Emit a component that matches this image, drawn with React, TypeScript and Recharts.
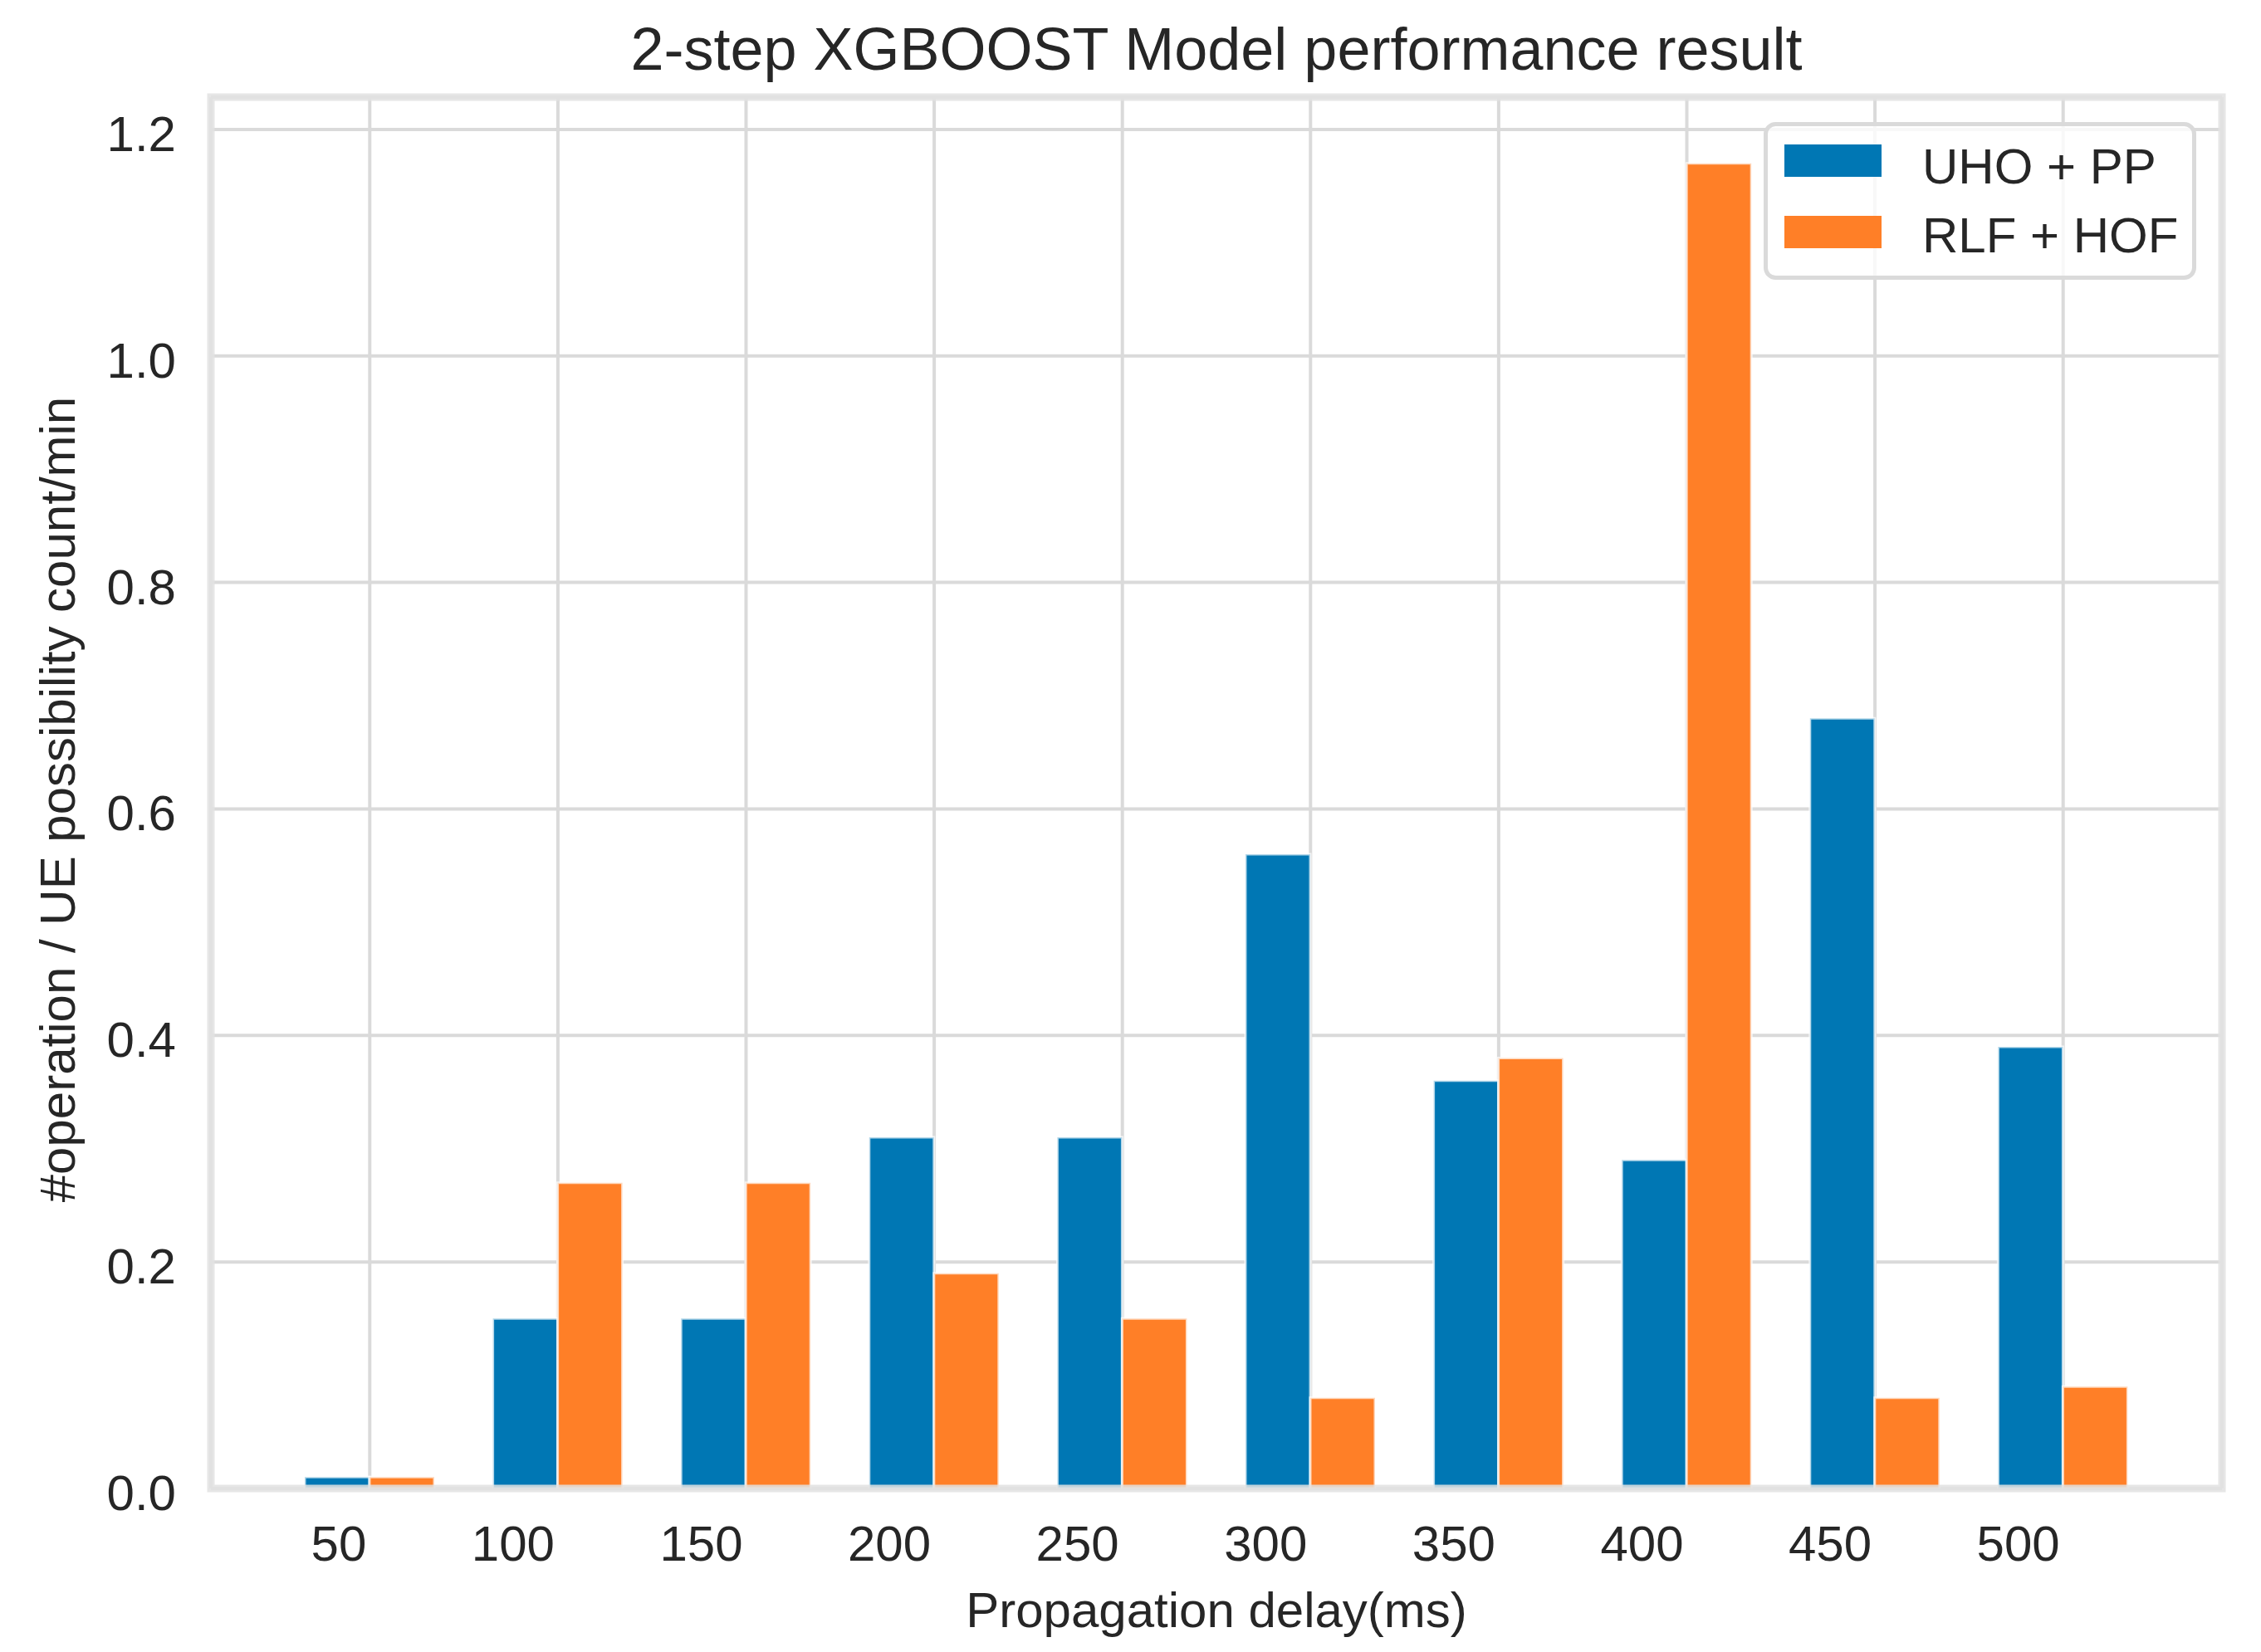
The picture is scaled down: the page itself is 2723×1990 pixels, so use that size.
import React from 'react';
import { BarChart, Bar, XAxis, YAxis, CartesianGrid, Legend } from 'recharts';

const categories = ['50', '100', '150', '200', '250', '300', '350', '400', '450', '500'];
const uhoPP = [0.01, 0.15, 0.15, 0.31, 0.31, 0.56, 0.36, 0.29, 0.68, 0.39];
const rlfHOF = [0.01, 0.27, 0.27, 0.19, 0.15, 0.08, 0.38, 1.17, 0.08, 0.09];
const yTicks = [0, 0.2, 0.4, 0.6, 0.8, 1.0, 1.2];
const seriesNames = ['UHO + PP', 'RLF + HOF'];
const titleText = '2-step XGBOOST Model performance result';
const xLabelText = 'Propagation delay(ms)';
const yLabelText = '#operation / UE possibility count/min';

const data = categories.map((c, i) => ({ delay: c, uho: uhoPP[i], rlf: rlfHOF[i] }));

const W = 2723;
const H = 1990;
const FONT = "'Liberation Sans', Arial, Helvetica, sans-serif";
const TXT = '#262626';
const BLUE = '#0077B4';
const ORANGE = '#FF7F27';

const PLOT_L = 254;
const PLOT_T = 117;
const PLOT_R = 2676;
const PLOT_B = 1793;

const XTick = (props: any) => {
  const { x, y, payload } = props;
  return (
    <text x={x - 4} y={y + 87} textAnchor="end" fontSize={60} fontFamily={FONT} fill={TXT}>
      {payload.value}
    </text>
  );
};

const YTick = (props: any) => {
  const { x, y, payload } = props;
  return (
    <text x={x - 42} y={y + 26} textAnchor="end" fontSize={60} fontFamily={FONT} fill={TXT}>
      {Number(payload.value).toFixed(1)}
    </text>
  );
};

const LegendBox = (props: any) => {
  const payload = [...(props.payload || [])].sort(
    (a: any, b: any) => seriesNames.indexOf(a.value) - seriesNames.indexOf(b.value)
  );
  return (
    <svg width={521} height={190} style={{ display: 'block' }}>
      <rect x={2.5} y={2.5} width={516} height={185} rx={12} ry={12} fill="rgba(255,255,255,0.8)" stroke="#dadada" strokeWidth={5} />
      {payload.map((entry: any, i: number) => (
        <g key={i}>
          <rect x={25} y={27 + i * 86} width={117} height={39} fill={entry.color} />
          <text x={191} y={74 + i * 83} fontSize={60} fontFamily={FONT} fill={TXT}>
            {entry.value}
          </text>
        </g>
      ))}
    </svg>
  );
};

export default function App() {
  return (
    <div style={{ position: 'absolute', left: 0, top: 0, width: W, height: H, background: '#fff', overflow: 'hidden' }}>
      <BarChart
        width={W}
        height={H}
        data={data}
        margin={{ top: PLOT_T, right: W - PLOT_R, bottom: 0, left: 0 }}
        barGap={0}
      >
        <CartesianGrid stroke="#dadada" strokeWidth={4} />
        <XAxis
          dataKey="delay"
          height={H - PLOT_B}
          padding={{ left: 78, right: 78 }}
          axisLine={false}
          tickLine={false}
          tickSize={0}
          tickMargin={0}
          interval={0}
          tick={<XTick />}
        />
        <YAxis
          type="number"
          width={PLOT_L}
          domain={[0, 1.2285]}
          ticks={yTicks}
          allowDataOverflow
          axisLine={false}
          tickLine={false}
          tickSize={0}
          tickMargin={0}
          tick={<YTick />}
        />
        <Legend
          layout="horizontal"
          verticalAlign="middle"
          align="center"
          content={<LegendBox />}
          wrapperStyle={{ position: 'absolute', left: 2124, top: 147, width: 521, height: 190 }}
        />
        <Bar dataKey="uho" name={seriesNames[0]} fill={BLUE} barSize={78} stroke="#ffffff" strokeOpacity={0.7} strokeWidth={3} isAnimationActive={false} />
        <Bar dataKey="rlf" name={seriesNames[1]} fill={ORANGE} barSize={78} stroke="#ffffff" strokeOpacity={0.7} strokeWidth={3} isAnimationActive={false} />
      </BarChart>
      <svg width={W} height={H} style={{ position: 'absolute', left: 0, top: 0, pointerEvents: 'none' }}>
        <rect
          x={PLOT_L}
          y={PLOT_T}
          width={PLOT_R - PLOT_L}
          height={PLOT_B - PLOT_T}
          fill="none"
          stroke="rgba(226,226,226,0.85)"
          strokeWidth={9}
        />
        <text x={(PLOT_L + PLOT_R) / 2} y={84} textAnchor="middle" fontSize={72} fontFamily={FONT} fill={TXT}>
          {titleText}
        </text>
        <text x={(PLOT_L + PLOT_R) / 2} y={1960} textAnchor="middle" fontSize={60} fontFamily={FONT} fill={TXT}>
          {xLabelText}
        </text>
        <text
          x={90}
          y={963}
          textAnchor="middle"
          fontSize={60}
          fontFamily={FONT}
          fill={TXT}
          transform="rotate(-90, 90, 963)"
        >
          {yLabelText}
        </text>
      </svg>
    </div>
  );
}
